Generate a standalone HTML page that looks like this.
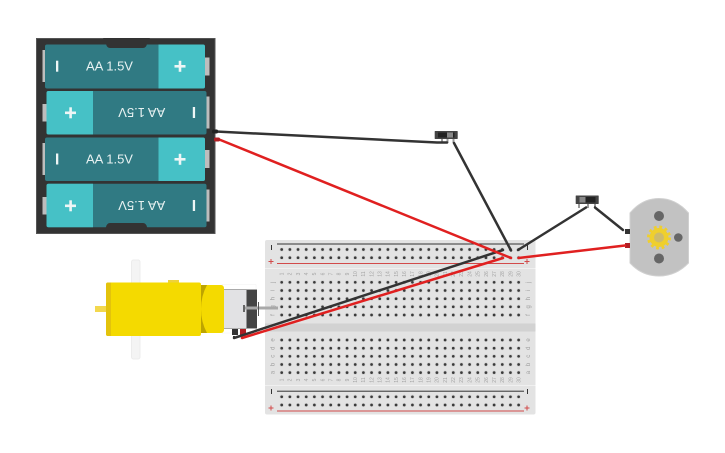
<!DOCTYPE html>
<html><head><meta charset="utf-8"><style>
html,body{margin:0;padding:0;background:#fff}
svg{display:block}
text{font-family:"Liberation Sans",sans-serif}
.n text{font-size:5px;fill:#a4a4a4;text-anchor:middle}
.l text{font-size:6px;fill:#a0a0a0;text-anchor:middle}
.h{stroke:#3a3a3a;stroke-width:2.700;stroke-linecap:round;stroke-dasharray:0 8.17;fill:none}
.hb{stroke:#cfcfcf;stroke-width:4;stroke-linecap:round;stroke-dasharray:0 8.17;fill:none}
.w{fill:none;stroke-width:2.500;stroke-linecap:round}
.t{font-size:13px;fill:#e8f2f2;text-anchor:middle}
</style></head><body>
<svg width="725" height="453" viewBox="0 0 725 453" xmlns="http://www.w3.org/2000/svg">
<rect width="725" height="453" fill="#fff"/>

<!-- battery holder -->
<rect x="36.500" y="38.500" width="178.500" height="195" fill="#333" stroke="#555" stroke-width="1"/>
<!-- terminals -->
<g fill="#bdbdbd">
<rect x="42.500" y="50" width="3" height="32"/><rect x="205" y="57.500" width="4.500" height="18"/>
<rect x="42.500" y="104" width="4" height="17.500"/><rect x="206.500" y="96.500" width="3" height="32"/>
<rect x="42.500" y="143" width="3" height="32"/><rect x="205" y="150" width="4.500" height="18"/>
<rect x="42.500" y="197" width="4" height="17.500"/><rect x="206.500" y="189.500" width="3" height="32"/>
</g>
<!-- batteries -->
<rect x="45" y="44.500" width="160" height="44" rx="2" fill="#307a83"/>
<path d="M158.500 44.500H203a2 2 0 0 1 2 2V86.500a2 2 0 0 1-2 2H158.500z" fill="#46c1c6"/>
<rect x="46.500" y="91" width="160" height="43.500" rx="2" fill="#307a83"/>
<path d="M93 91H48.500a2 2 0 0 0-2 2V132.500a2 2 0 0 0 2 2H93z" fill="#46c1c6"/>
<rect x="45" y="137.500" width="160" height="43.500" rx="2" fill="#307a83"/>
<path d="M158.500 137.500H203a2 2 0 0 1 2 2V179a2 2 0 0 1-2 2H158.500z" fill="#46c1c6"/>
<rect x="46.500" y="183.700" width="160" height="43.500" rx="2" fill="#307a83"/>
<path d="M93 183.700H48.500a2 2 0 0 0-2 2V225.200a2 2 0 0 0 2 2H93z" fill="#46c1c6"/>
<!-- notches -->
<path d="M103 38H150L147 44Q146 48 143 48H110Q107 48 106 44Z" fill="#333"/>
<path d="M103 233H150L147 227Q146 223 143 223H110Q107 223 106 227Z" fill="#333"/>
<!-- marks -->
<g fill="#eef6f6">
<rect x="56" y="60.700" width="2.300" height="11"/><rect x="174.500" y="65" width="11" height="2.600"/><rect x="178.700" y="60.800" width="2.600" height="11"/>
<rect x="192.800" y="107" width="2.300" height="11"/><rect x="65" y="111.500" width="11" height="2.600"/><rect x="69.300" y="107.300" width="2.600" height="11"/>
<rect x="56" y="153.500" width="2.300" height="11"/><rect x="174.500" y="158" width="11" height="2.600"/><rect x="178.700" y="153.800" width="2.600" height="11"/>
<rect x="192.800" y="200" width="2.300" height="11"/><rect x="65" y="204.500" width="11" height="2.600"/><rect x="69.300" y="200.300" width="2.600" height="11"/>
</g>
<text class="t" x="109.500" y="70.500">AA 1.5V</text>
<text class="t" x="109.500" y="163.300">AA 1.5V</text>
<text class="t" transform="rotate(180 141.700 112.700)" x="141.700" y="117.200">AA 1.5V</text>
<text class="t" transform="rotate(180 141.700 205.500)" x="141.700" y="210">AA 1.5V</text>

<!-- breadboard -->
<rect x="265" y="240" width="270.500" height="174.500" rx="2" fill="#e3e3e3"/>
<rect x="265" y="268" width="270.500" height="1" fill="#f0f0f0"/>
<rect x="265" y="385" width="270.500" height="1" fill="#f0f0f0"/>
<rect x="265" y="323.500" width="270.500" height="8" fill="#d2d2d2"/>
<rect x="277" y="243.500" width="247" height="1" fill="#333"/>
<rect x="277" y="263" width="247" height="1" fill="#d24a4a"/>
<rect x="277" y="390.700" width="247" height="1" fill="#333"/>
<rect x="277" y="410.500" width="247" height="1" fill="#d24a4a"/>
<path class="hb" d="M281.700 249.500H520M281.700 257.700H520M281.700 282.300H520M281.700 290.500H520M281.700 298.700H520M281.700 306.800H520M281.700 315H520M281.700 340H520M281.700 348.200H520M281.700 356.300H520M281.700 364.500H520M281.700 372.600H520M281.700 396.800H520M281.700 405H520"/>
<path class="h" d="M281.700 249.500H520M281.700 257.700H520M281.700 282.300H520M281.700 290.500H520M281.700 298.700H520M281.700 306.800H520M281.700 315H520M281.700 340H520M281.700 348.200H520M281.700 356.300H520M281.700 364.500H520M281.700 372.600H520M281.700 396.800H520M281.700 405H520"/>
<g fill="#333"><rect x="271" y="245" width="1" height="5"/><rect x="527" y="245" width="1" height="5"/><rect x="271" y="389" width="1" height="5"/><rect x="527" y="389" width="1" height="5"/></g>
<g fill="#d24a4a"><path d="M268.500 261h5v1h-5zM270.500 259h1v5h-1zM524.500 261h5v1h-5zM526.500 259h1v5h-1zM268.500 407.500h5v1h-5zM270.500 405.500h1v5h-1zM524.500 407.500h5v1h-5zM526.500 405.500h1v5h-1z"/></g>

<g class="n">
<text transform="translate(283.500 274) rotate(-90)">1</text><text transform="translate(291.700 274) rotate(-90)">2</text><text transform="translate(299.800 274) rotate(-90)">3</text><text transform="translate(308 274) rotate(-90)">4</text><text transform="translate(316.200 274) rotate(-90)">5</text><text transform="translate(324.300 274) rotate(-90)">6</text><text transform="translate(332.500 274) rotate(-90)">7</text><text transform="translate(340.700 274) rotate(-90)">8</text><text transform="translate(348.900 274) rotate(-90)">9</text><text transform="translate(357 274) rotate(-90)">10</text><text transform="translate(365.200 274) rotate(-90)">11</text><text transform="translate(373.400 274) rotate(-90)">12</text><text transform="translate(381.500 274) rotate(-90)">13</text><text transform="translate(389.700 274) rotate(-90)">14</text><text transform="translate(397.900 274) rotate(-90)">15</text><text transform="translate(406 274) rotate(-90)">16</text><text transform="translate(414.200 274) rotate(-90)">17</text><text transform="translate(422.400 274) rotate(-90)">18</text><text transform="translate(430.600 274) rotate(-90)">19</text><text transform="translate(438.700 274) rotate(-90)">20</text><text transform="translate(446.900 274) rotate(-90)">21</text><text transform="translate(455.100 274) rotate(-90)">22</text><text transform="translate(463.200 274) rotate(-90)">23</text><text transform="translate(471.400 274) rotate(-90)">24</text><text transform="translate(479.600 274) rotate(-90)">25</text><text transform="translate(487.800 274) rotate(-90)">26</text><text transform="translate(495.900 274) rotate(-90)">27</text><text transform="translate(504.100 274) rotate(-90)">28</text><text transform="translate(512.300 274) rotate(-90)">29</text><text transform="translate(520.400 274) rotate(-90)">30</text>
<text transform="translate(283.500 380) rotate(-90)">1</text><text transform="translate(291.700 380) rotate(-90)">2</text><text transform="translate(299.800 380) rotate(-90)">3</text><text transform="translate(308 380) rotate(-90)">4</text><text transform="translate(316.200 380) rotate(-90)">5</text><text transform="translate(324.300 380) rotate(-90)">6</text><text transform="translate(332.500 380) rotate(-90)">7</text><text transform="translate(340.700 380) rotate(-90)">8</text><text transform="translate(348.900 380) rotate(-90)">9</text><text transform="translate(357 380) rotate(-90)">10</text><text transform="translate(365.200 380) rotate(-90)">11</text><text transform="translate(373.400 380) rotate(-90)">12</text><text transform="translate(381.500 380) rotate(-90)">13</text><text transform="translate(389.700 380) rotate(-90)">14</text><text transform="translate(397.900 380) rotate(-90)">15</text><text transform="translate(406 380) rotate(-90)">16</text><text transform="translate(414.200 380) rotate(-90)">17</text><text transform="translate(422.400 380) rotate(-90)">18</text><text transform="translate(430.600 380) rotate(-90)">19</text><text transform="translate(438.700 380) rotate(-90)">20</text><text transform="translate(446.900 380) rotate(-90)">21</text><text transform="translate(455.100 380) rotate(-90)">22</text><text transform="translate(463.200 380) rotate(-90)">23</text><text transform="translate(471.400 380) rotate(-90)">24</text><text transform="translate(479.600 380) rotate(-90)">25</text><text transform="translate(487.800 380) rotate(-90)">26</text><text transform="translate(495.900 380) rotate(-90)">27</text><text transform="translate(504.100 380) rotate(-90)">28</text><text transform="translate(512.300 380) rotate(-90)">29</text><text transform="translate(520.400 380) rotate(-90)">30</text>
</g>
<g class="l">
<text transform="translate(274.500 282.300) rotate(-90)">j</text><text transform="translate(274.500 290.500) rotate(-90)">i</text><text transform="translate(274.500 298.700) rotate(-90)">h</text><text transform="translate(274.500 306.800) rotate(-90)">g</text><text transform="translate(274.500 315) rotate(-90)">f</text>
<text transform="translate(274.500 340) rotate(-90)">e</text><text transform="translate(274.500 348.200) rotate(-90)">d</text><text transform="translate(274.500 356.300) rotate(-90)">c</text><text transform="translate(274.500 364.500) rotate(-90)">b</text><text transform="translate(274.500 372.600) rotate(-90)">a</text>
<text transform="translate(530 282.300) rotate(-90)">j</text><text transform="translate(530 290.500) rotate(-90)">i</text><text transform="translate(530 298.700) rotate(-90)">h</text><text transform="translate(530 306.800) rotate(-90)">g</text><text transform="translate(530 315) rotate(-90)">f</text>
<text transform="translate(530 340) rotate(-90)">e</text><text transform="translate(530 348.200) rotate(-90)">d</text><text transform="translate(530 356.300) rotate(-90)">c</text><text transform="translate(530 364.500) rotate(-90)">b</text><text transform="translate(530 372.600) rotate(-90)">a</text>
</g>

<!-- gear motor -->
<rect x="131.500" y="260" width="8.500" height="99" rx="2" fill="#f4f4f4" stroke="#ececec"/>
<rect x="95" y="306" width="12" height="6" fill="#f3d84e"/>
<rect x="168" y="280" width="11" height="3" fill="#eed23a"/>
<path d="M222 284.500H256V333H222Z" fill="#fff" stroke="#f0f0f0" stroke-width=".5"/>
<rect x="224" y="290" width="24" height="38" fill="#e2e2e4"/>
<rect x="224" y="289" width="33" height="1" fill="#aaa"/>
<rect x="224" y="328" width="33" height="1" fill="#aaa"/>
<rect x="246.500" y="290" width="10.500" height="38" fill="#444"/>
<rect x="243" y="306.500" width="35" height="3" fill="#a8a8a8"/>
<rect x="243" y="305" width="2" height="7" fill="#666"/>
<rect x="258" y="302" width="1" height="14" fill="#555"/>
<path d="M201 285H212V333H201Z" fill="#bda400"/>
<path d="M207 285H221a3 3 0 0 1 3 3V330a3 3 0 0 1-3 3H207Q201 322 201 309T207 285Z" fill="#f4da00"/>
<rect x="106" y="282.500" width="95" height="53.500" rx="2" fill="#f4da00"/>
<path d="M108 282.500H111V336H108a2 2 0 0 1-2-2V284.500a2 2 0 0 1 2-2Z" fill="#e3c30c"/>
<rect x="232" y="329" width="6" height="6" fill="#333"/>
<rect x="240" y="329" width="6" height="6" fill="#b01f24"/>

<!-- switches -->
<g fill="#9a9a9a"><rect x="441" y="138" width="2" height="5"/><rect x="446.500" y="138" width="2" height="5"/><rect x="452.500" y="138" width="2" height="5"/>
<rect x="578" y="203" width="2" height="5"/><rect x="587" y="203" width="2" height="5"/><rect x="594" y="203" width="2" height="5"/></g>
<rect x="434.700" y="131" width="23" height="8" rx=".5" fill="#444"/>
<rect x="438" y="132.500" width="16.500" height="5" fill="#222"/>
<rect x="447" y="132.500" width="6" height="5" fill="#888"/>
<rect x="575.700" y="195.500" width="23" height="8.500" rx=".5" fill="#444"/>
<rect x="579.500" y="197" width="16" height="5.500" fill="#222"/>
<rect x="579.500" y="197" width="6" height="5.500" fill="#888"/>

<!-- dc motor -->
<path d="M630 213Q642 198.500 659 198.500Q676 198.500 688.500 213V263Q676 276 659 276Q642 276 630 263Z" fill="#c2c2c2" stroke="#d0d0d0" stroke-width="1"/>
<circle cx="659" cy="216" r="5" fill="#666"/>
<circle cx="659" cy="258.500" r="5" fill="#666"/>
<circle cx="678.300" cy="237.500" r="4.300" fill="#666"/>
<circle cx="659" cy="237.500" r="9.500" fill="#efcf2e"/>
<circle cx="659" cy="237.500" r="10.500" fill="none" stroke="#efcf2e" stroke-width="3" stroke-dasharray="2.750 2.750"/>
<circle cx="659" cy="237.500" r="5" fill="#cdbb6c"/>
<rect x="625" y="229" width="5" height="5" fill="#333"/>
<rect x="625" y="243" width="5" height="5" fill="#b01f24"/>

<!-- wires -->
<g class="w" stroke="#333">
<path d="M216 131.500L437 142.500H447"/>
<path d="M454 143L511 250.500"/>
<path d="M518 250L586 207.500"/>
<path d="M595 207.500L623 230"/>
<path d="M234 338L503 250"/>
</g>
<g class="w" stroke="#e02020">
<path d="M218 139L511 258"/>
<path d="M518.500 258L625 245.500"/>
<path d="M242 338L503 258"/>
</g>
<path d="M234 336V338" stroke="#333" stroke-width="2"/>
<rect x="212" y="129.500" width="6" height="4" rx="1.500" fill="#222"/>
<rect x="214" y="137.500" width="6" height="4" rx="1.500" fill="#b01f24"/>
</svg>
</body></html>
